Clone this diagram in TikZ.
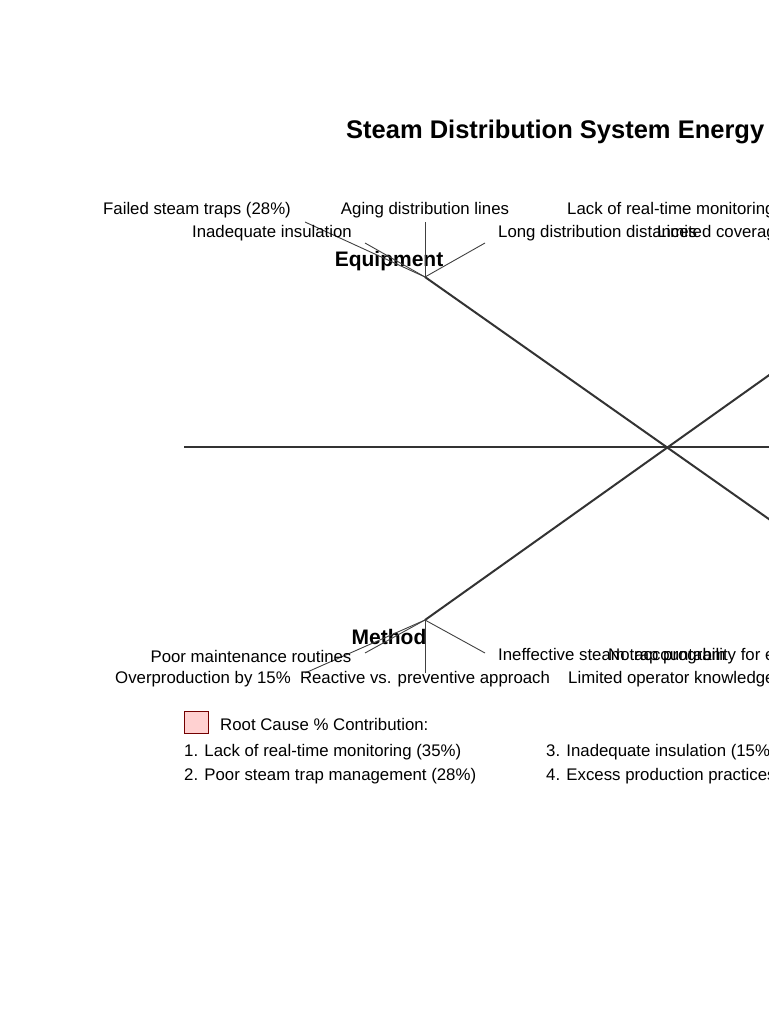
\documentclass[tikz,border=0pt]{standalone}
\usepackage{fontspec}
\setmainfont{Liberation Sans}
\begin{document}
\begin{tikzpicture}[x=1pt,y=-1pt,
  lbl/.style={font=\fontsize{16.8}{19}\selectfont,inner sep=0pt},
  cat/.style={font=\fontsize{21}{24}\selectfont\bfseries,inner sep=0pt},
  spine/.style={line width=2pt,draw=black!80},
  twig/.style={line width=0.9pt,draw=black!75}]
\useasboundingbox (0,0) rectangle (768,1024);
\node[font=\fontsize{25.5}{29}\selectfont\bfseries,anchor=west,inner sep=0pt] (title) at (346,132) {Steam Distribution System Energy Loss Analysis};
\coordinate (sL) at (184,447);
\coordinate (sR) at (800,447);
\coordinate (c) at (667,447);
\coordinate (eq) at (425,277);
\coordinate (me) at (425,620);
\coordinate (eqE) at (810,548);
\coordinate (meE) at (810,346);
\draw[spine] (sL) -- (sR);
\draw[spine] (eq) -- (eqE);
\draw[spine] (me) -- (meE);
\node[cat] (eqL) at (389,261) {Equipment};
\node[cat] (meL) at (389,637) {Method};
% equipment twigs
\coordinate (e1) at (305,222); \coordinate (e2) at (365,243);
\coordinate (e3) at (425,222); \coordinate (e4) at (485,243);
\foreach \p in {e1,e2,e3,e4} \draw[twig] (eq) -- (\p);
\node[lbl] (t1) at (197,210) {Failed steam traps (28\%)};
\node[lbl] (t2) at (425,210) {Aging distribution lines};
\node[lbl,anchor=west] (t3) at (567,210) {Lack of real-time monitoring};
\node[lbl] (t4) at (272,233) {Inadequate insulation};
\node[lbl,anchor=west] (t5) at (498,233) {Long distribution distances};
\node[lbl,anchor=west] (t6) at (657,233) {Limited coverage};
% method twigs
\coordinate (m1) at (305,673); \coordinate (m2) at (365,653);
\coordinate (m3) at (425,673); \coordinate (m4) at (485,653);
\foreach \p in {m1,m2,m3,m4} \draw[twig] (me) -- (\p);
\node[lbl] (u1) at (251,656) {Poor maintenance routines};
\node[lbl,anchor=west] (u2) at (498,656) {Ineffective steam trap program};
\node[lbl,anchor=west] (u3) at (608,656) {No accountability for energy};
\node[lbl] (u4) at (203,679) {Overproduction by 15\%};
\node[lbl] (u5) at (425,679) {Reactive vs. preventive approach};
\node[lbl,anchor=west] (u6) at (568,679) {Limited operator knowledge};
% legend
\node[draw=red!45!black,fill=red!18,minimum width=24pt,minimum height=22pt,inner sep=0pt] (lg) at (196,722) {};
\node[lbl,anchor=west] (lt) at (220,724) {Root Cause \% Contribution:};
\node[lbl,anchor=west] (l1) at (184,752) {1. Lack of real-time monitoring (35\%)};
\node[lbl,anchor=west] (l2) at (184,776) {2. Poor steam trap management (28\%)};
\node[lbl,anchor=west] (l3) at (546,752) {3. Inadequate insulation (15\%)};
\node[lbl,anchor=west] (l4) at (546,776) {4. Excess production practices (15\%)};
\end{tikzpicture}
\end{document}
